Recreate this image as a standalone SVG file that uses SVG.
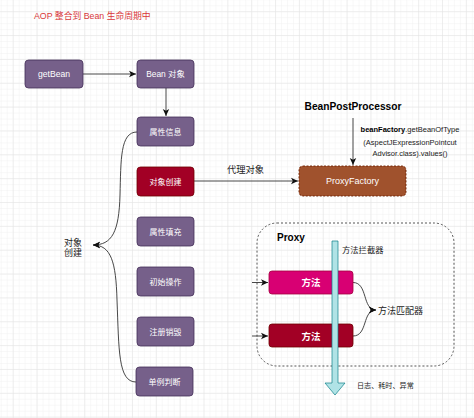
<svg xmlns="http://www.w3.org/2000/svg" width="474" height="418" viewBox="0 0 474 418">
<defs>
<pattern id="minor" x="12.7" y="11.2" width="5.9625" height="5.9625" patternUnits="userSpaceOnUse">
<path d="M0,0 H5.9625 M0,0 V5.9625" stroke="#f1f1f1" stroke-width="1" fill="none"/>
</pattern>
<pattern id="major" x="12.7" y="11.2" width="23.85" height="23.85" patternUnits="userSpaceOnUse">
<path d="M0,0 H23.85 M0,0 V23.85" stroke="#e3e3e3" stroke-width="1" fill="none"/>
</pattern>
<marker id="arr" markerWidth="8" markerHeight="8" refX="7" refY="4" orient="auto" markerUnits="userSpaceOnUse">
<path d="M0,0.8 L7,4 L0,7.2 L1.8,4 Z" fill="#111"/>
</marker>
</defs>
<style>
.purple{fill:#76608a;stroke:#432d57;stroke-width:0.8}
.red{fill:#a20025;stroke:#6f0000;stroke-width:0.8}
.pink{fill:#d80073;stroke:#a50040;stroke-width:0.8}
.lbl{font-family:"Liberation Sans","Noto Sans CJK SC",sans-serif;fill:#ffffff;text-anchor:middle}
.txt{font-family:"Liberation Sans","Noto Sans CJK SC",sans-serif;fill:#222222}
.edge{fill:none;stroke:#333333;stroke-width:0.9}
</style>
<rect width="474" height="418" fill="#ffffff"/>
<rect width="474" height="418" fill="url(#minor)"/>
<rect width="474" height="418" fill="url(#major)"/>

<text class="txt" x="34" y="18.5" font-size="8.8" style="fill:#d9383a">AOP 整合到 Bean 生命周期中</text>

<g id="proxy-container">
<rect x="257" y="223" width="197" height="143" rx="20" fill="none" stroke="#444" stroke-width="0.9" stroke-dasharray="2 2"/>
<text class="txt" x="277" y="240.5" font-size="10" font-weight="bold" style="fill:#000">Proxy</text>
</g>

<g id="connectors">
<path class="edge" d="M83,74 H136" marker-end="url(#arr)"/>
<path class="edge" d="M166,88 V116" marker-end="url(#arr)"/>
<path class="edge" d="M194,181 H298" marker-end="url(#arr)"/>
<path class="edge" d="M353,118 V165" marker-end="url(#arr)"/>
<path class="edge" d="M137,132 C120,132 121,160 120,195 C119,232 112,245 93,245" marker-end="url(#arr)"/>
<path class="edge" d="M136,382 C118,382 119,350 117,300 C116,262 111,245 93,245" marker-end="url(#arr)"/>
<path class="edge" d="M252,282.5 H268" marker-end="url(#arr)"/>
<path class="edge" d="M252,336 H268" marker-end="url(#arr)"/>
<path class="edge" d="M353,282.5 C368,282.5 362,310 376,310" marker-end="url(#arr)"/>
<path class="edge" d="M353,336 C368,336 362,310 376,310" marker-end="url(#arr)"/>
<text class="txt" x="245.5" y="172.5" font-size="9.3" text-anchor="middle">代理对象</text>
<text class="txt" x="64" y="245.5" font-size="9">对象</text>
<text class="txt" x="64" y="256" font-size="9">创建</text>
</g>

<g id="getBean">
<rect class="purple" x="25" y="60" width="58" height="28" rx="3.5"/>
<text class="lbl" x="54" y="77.3" font-size="8.6">getBean</text>
</g>
<g id="bean-object">
<rect class="purple" x="137" y="60" width="57" height="28" rx="3.5"/>
<text class="lbl" x="165.5" y="77.3" font-size="8.4">Bean 对象</text>
</g>
<g id="attr-info">
<rect class="purple" x="137" y="117" width="57" height="29" rx="3.5"/>
<text class="lbl" x="165.5" y="134.5" font-size="8">属性信息</text>
</g>
<g id="object-create">
<rect class="red" x="137" y="167" width="57" height="29" rx="3.5"/>
<text class="lbl" x="165.5" y="184.5" font-size="8">对象创建</text>
</g>
<g id="attr-fill">
<rect class="purple" x="137" y="217" width="57" height="29" rx="3.5"/>
<text class="lbl" x="165.5" y="234.5" font-size="8">属性填充</text>
</g>
<g id="init-op">
<rect class="purple" x="137" y="267" width="57" height="29" rx="3.5"/>
<text class="lbl" x="165.5" y="284.5" font-size="8">初始操作</text>
</g>
<g id="register-destroy">
<rect class="purple" x="137" y="317" width="57" height="29" rx="3.5"/>
<text class="lbl" x="165.5" y="334.5" font-size="8">注册销毁</text>
</g>
<g id="singleton-check">
<rect class="purple" x="136" y="367" width="57" height="29" rx="3.5"/>
<text class="lbl" x="164.5" y="384.5" font-size="8">单例判断</text>
</g>

<g id="bean-post-processor">
<text class="txt" x="353" y="110" font-size="10.2" font-weight="bold" text-anchor="middle" style="fill:#000">BeanPostProcessor</text>
<text class="txt" x="410" y="131.5" font-size="7.5" text-anchor="middle"><tspan font-weight="bold" style="fill:#000">beanFactory</tspan>.getBeanOfType</text>
<text class="txt" x="410" y="144.5" font-size="7.5" text-anchor="middle">(AspectJExpressionPointcut</text>
<text class="txt" x="410" y="155.5" font-size="7.5" text-anchor="middle">Advisor.class).values()</text>
</g>

<g id="proxy-factory">
<rect x="299" y="166" width="107" height="30" rx="4" fill="#a0522d" stroke="#6d1f00" stroke-width="0.9" stroke-dasharray="2 1.5"/>
<text class="lbl" x="352.5" y="184.3" font-size="9">ProxyFactory</text>
</g>

<g id="method-1">
<rect class="pink" x="269" y="271" width="84" height="23" rx="3"/>
<text class="lbl" x="311" y="286" font-size="9.5" font-weight="bold">方法</text>
</g>
<g id="method-2">
<rect class="red" x="269" y="324" width="84" height="23" rx="3"/>
<text class="lbl" x="311" y="339.5" font-size="9.5" font-weight="bold">方法</text>
</g>

<g id="method-interceptor">
<polygon points="332,241 338,241 338,383 345,383 335,395 325,383 332,383" fill="#b0e3e6" stroke="#0e8088" stroke-width="0.7"/>
<text class="txt" x="342" y="253" font-size="8.3">方法拦截器</text>
<text class="txt" x="357" y="388" font-size="7.1">日志、耗时、异常</text>
</g>

<g id="method-matcher">
<text class="txt" x="378" y="314" font-size="9">方法匹配器</text>
</g>
</svg>
